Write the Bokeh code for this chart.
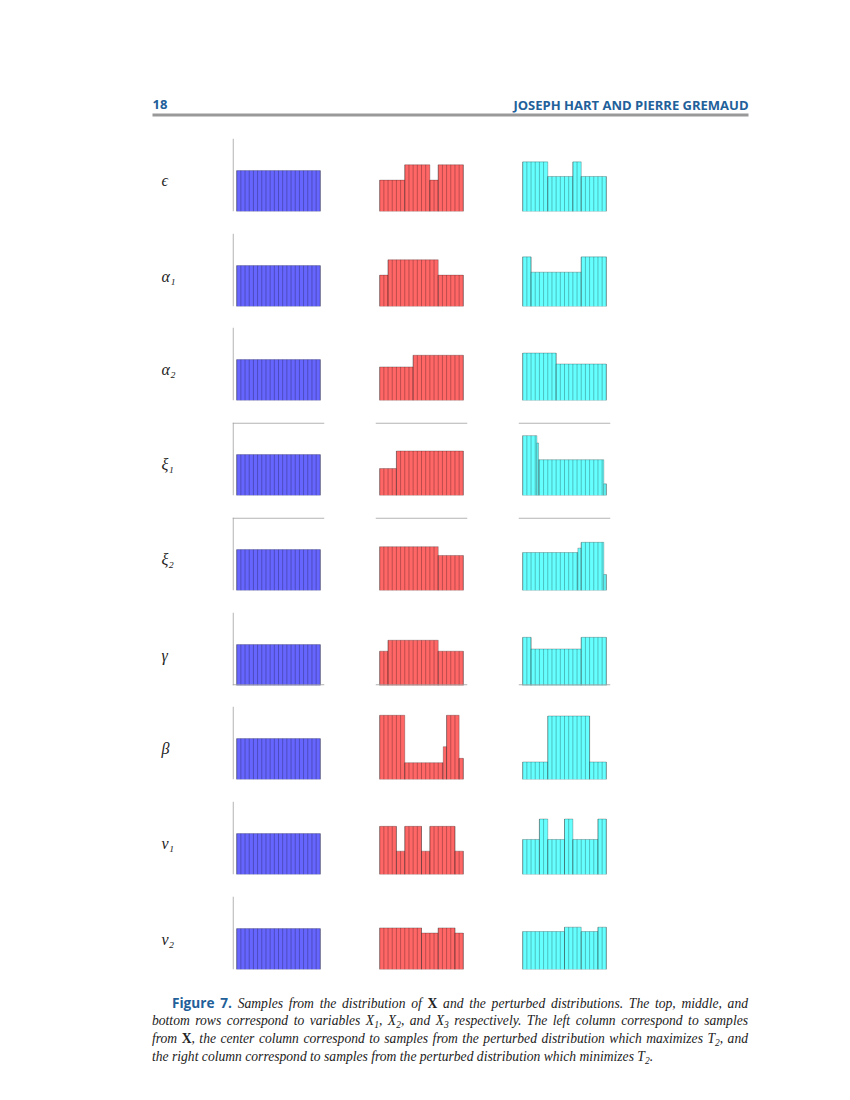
import numpy as np
from bokeh.plotting import figure
from bokeh.layouts import column, gridplot
from bokeh.models import Range1d, Span, Div
from bokeh.core.properties import value
from bokeh.embed import file_html
from bokeh.resources import INLINE

# ---------------- data ----------------
row_labels = ["ϵ", "α₁", "α₂", "ξ₁", "ξ₂", "γ", "β", "ν₁", "ν₂"]

# left column: samples from X (uniform)
left_edges = [[0, 1.0]] * 9
left_heights = [[0.56]] * 9

# centre column: perturbed distribution maximising T2
mid_edges = [
    [0, 0.3, 0.6, 0.7, 1.0],
    [0, 0.1, 0.7, 1.0],
    [0, 0.4, 1.0],
    [0, 0.2, 1.0],
    [0, 0.7, 1.0],
    [0, 0.1, 0.7, 1.0],
    [0, 0.3, 0.76, 0.8, 0.95, 1.0],
    [0, 0.2, 0.3, 0.5, 0.6, 0.9, 1.0],
    [0, 0.5, 0.7, 0.9, 1.0],
]
mid_heights = [
    [0.43, 0.64, 0.43, 0.64],
    [0.43, 0.64, 0.43],
    [0.46, 0.62],
    [0.37, 0.61],
    [0.60, 0.48],
    [0.47, 0.62, 0.47],
    [0.88, 0.23, 0.45, 0.88, 0.29],
    [0.66, 0.32, 0.66, 0.32, 0.66, 0.32],
    [0.57, 0.50, 0.57, 0.50],
]

# right column: perturbed distribution minimising T2
right_edges = [
    [0, 0.3, 0.6, 0.7, 1.0],
    [0, 0.1, 0.7, 1.0],
    [0, 0.4, 1.0],
    [0, 0.17, 0.19, 0.97, 1.0],
    [0, 0.66, 0.70, 0.97, 1.0],
    [0, 0.1, 0.7, 1.0],
    [0, 0.3, 0.8, 1.0],
    [0, 0.2, 0.3, 0.5, 0.6, 0.9, 1.0],
    [0, 0.5, 0.7, 0.9, 1.0],
]
right_heights = [
    [0.68, 0.48, 0.68, 0.48],
    [0.68, 0.47, 0.68],
    [0.65, 0.50],
    [0.82, 0.72, 0.49, 0.16],
    [0.52, 0.58, 0.66, 0.22],
    [0.66, 0.50, 0.66],
    [0.24, 0.87, 0.24],
    [0.48, 0.76, 0.48, 0.76, 0.48, 0.76],
    [0.52, 0.58, 0.52, 0.58],
]

col_colors = ["#6666ff", "#ff6666", "#66ffff"]

# which spines each row shows (matplotlib-style leftovers)
top_spine_rows = [3, 4]
bottom_spine_rows = [5]

# ---------------- layout constants ----------------
PAGE_W = 842
HEADER_H = 128
row_heights = [95, 94, 95, 95, 95, 94, 95, 95, 93]
FRAME_H = 73
FRAME_W = 92
TOP_B = 10
LABEL_W = 222
CELL_W = 143
LEFT_B = 10
SPINE = "#a0a0a0"
HEAD_BLUE = "#22609a"


def bare(p):
    p.axis.visible = False
    p.grid.visible = False
    p.outline_line_color = None
    p.title.visible = False
    return p


def step_at(edges, heights, xs):
    e = np.asarray(edges, dtype=float)
    h = np.asarray(heights, dtype=float)
    i = np.clip(np.searchsorted(e, xs, side="right") - 1, 0, len(h) - 1)
    j = np.clip(np.searchsorted(e, xs, side="left") - 1, 0, len(h) - 1)
    return np.maximum(h[i], h[j])


def hist_fig(edges, heights, color, h, col, row):
    p = figure(width=CELL_W, height=h,
               x_range=Range1d(-0.05, 1.05), y_range=Range1d(0, 1),
               output_backend="svg", toolbar_location=None,
               min_border_left=LEFT_B, min_border_right=CELL_W - LEFT_B - FRAME_W,
               min_border_top=TOP_B, min_border_bottom=h - TOP_B - FRAME_H)
    bare(p)
    e = np.asarray(edges, dtype=float)
    p.quad(left=e[:-1], right=e[1:], bottom=0, top=heights,
           fill_color=color, fill_alpha=1.0,
           line_color="black", line_alpha=0.3, line_width=0.8)
    xs = np.linspace(0, 1, 21)
    hs = step_at(edges, heights, xs)
    p.segment(x0=xs, y0=np.zeros_like(xs), x1=xs, y1=hs,
              line_color="black", line_alpha=0.33, line_width=0.8)
    dx = 1.1 / FRAME_W * 0.6
    dy = 1.0 / FRAME_H * 0.6
    if col == 0:
        p.add_layout(Span(location=-0.05 + dx, dimension="height",
                          line_color=SPINE, line_width=1))
    if row in top_spine_rows:
        p.add_layout(Span(location=1 - dy, dimension="width",
                          line_color=SPINE, line_width=1))
    if row in bottom_spine_rows:
        p.add_layout(Span(location=dy, dimension="width",
                          line_color=SPINE, line_width=1))
    return p


def label_fig(text, h):
    p = figure(width=LABEL_W, height=h,
               x_range=Range1d(0, LABEL_W), y_range=Range1d(h, 0),
               output_backend="svg", toolbar_location=None,
               min_border=0)
    bare(p)
    p.text(x=[161], y=[TOP_B + 45], text=[text],
           text_font=value("Liberation Serif"), text_font_style="italic",
           text_font_size="16px", text_color="#222222",
           text_align="left", text_baseline="alphabetic")
    return p


# ---------------- header ----------------
header = figure(width=PAGE_W, height=HEADER_H,
                x_range=Range1d(0, PAGE_W), y_range=Range1d(HEADER_H, 0),
                output_backend="svg", toolbar_location=None, min_border=0)
bare(header)
header.text(x=[152], y=[104], text=["18"],
            text_font=value("Open Sans"), text_font_style="bold",
            text_font_size="13px", text_color=HEAD_BLUE,
            text_align="left", text_baseline="alphabetic")
header.text(x=[748], y=[104], text=["JOSEPH HART AND PIERRE GREMAUD"],
            text_font=value("Open Sans"), text_font_style="bold",
            text_font_size="13px", text_color=HEAD_BLUE,
            text_align="right", text_baseline="alphabetic")
header.segment(x0=[152], y0=[114.5], x1=[748], y1=[114.5],
               line_color="#999999", line_width=3)

# ---------------- grid ----------------
rows = []
all_edges = [left_edges, mid_edges, right_edges]
all_heights = [left_heights, mid_heights, right_heights]
for r in range(9):
    h = row_heights[r]
    cells = [label_fig(row_labels[r], h)]
    for c in range(3):
        cells.append(hist_fig(all_edges[c][r], all_heights[c][r],
                              col_colors[c], h, c, r))
    rows.append(cells)

grid = gridplot(rows, toolbar_location=None)

# ---------------- caption ----------------
sub = 'style="font-size:70%;vertical-align:-0.3em;line-height:0"'
bx = 'style="font-style:normal;font-weight:bold"'
line_css = ("text-align:justify;text-align-last:justify;"
            "height:18px;line-height:18px;")
caption_html = f"""
<div style="position:relative;margin-left:152px;width:596px;padding-top:15px;
 font-family:'Liberation Serif',serif;font-style:italic;font-size:13.6px;color:#222;">
<div style="{line_css}padding-left:20px;">
<span style="font-family:'Open Sans',sans-serif;font-style:normal;font-weight:bold;color:{HEAD_BLUE};">Figure 7.</span>
Samples from the distribution of <span {bx}>X</span> and the perturbed distributions. The top, middle, and</div>
<div style="{line_css}">bottom rows correspond to variables X<sub {sub}>1</sub>, X<sub {sub}>2</sub>, and X<sub {sub}>3</sub> respectively. The left column correspond to samples</div>
<div style="{line_css}">from <span {bx}>X</span>, the center column correspond to samples from the perturbed distribution which maximizes T<sub {sub}>2</sub>, and</div>
<div style="height:18px;line-height:18px;">the right column correspond to samples from the perturbed distribution which minimizes T<sub {sub}>2</sub>.</div>
</div>
"""
caption = Div(text=caption_html, width=PAGE_W, height=110, margin=(0, 0, 0, 0))

page = column(header, grid, caption, spacing=0)

open("out.html", "w").write(file_html(page, INLINE))
